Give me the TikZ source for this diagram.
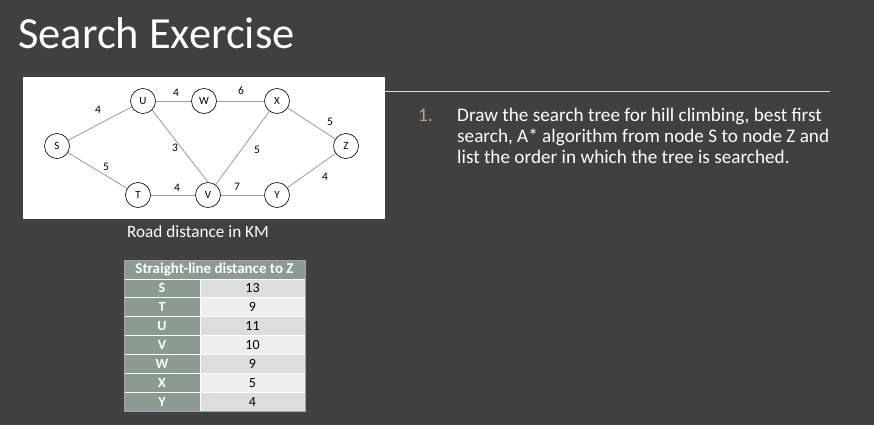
\documentclass[tikz,border=0pt]{standalone}
\usepackage{fontspec}
\setmainfont{Carlito}
\definecolor{bg}{HTML}{404040}
\definecolor{hdr}{HTML}{8C9B8F}
\definecolor{rowa}{HTML}{DCDEDD}
\definecolor{rowb}{HTML}{EEEFEE}
\definecolor{numcol}{HTML}{B3AE6E}
\definecolor{edgecol}{HTML}{9A9A9A}
\begin{document}
\begin{tikzpicture}[x=1pt,y=-1pt,
  gnode/.style={circle,draw=black,line width=0.6pt,fill=white,minimum size=25pt,inner sep=0pt,font=\fontsize{11}{13}\selectfont},
  road/.style={draw=edgecol,line width=0.8pt},
  elabel/.style={font=\fontsize{11.5}{13}\selectfont,inner sep=0pt,text=black},
  hcell/.style={font=\fontsize{15}{17}\selectfont\bfseries,text=white,inner sep=0pt},
  lcell/.style={font=\fontsize{14}{16}\selectfont\bfseries,text=white,inner sep=0pt},
  rcell/.style={font=\fontsize{14}{16}\selectfont,text=black,inner sep=0pt},
  bodytext/.style={font=\fontsize{19.2}{22}\selectfont,text=white,inner sep=0pt,anchor=base west}
]
\fill[bg] (0,0) rectangle (874,425);
\useasboundingbox (0,0) rectangle (874,425);

% title
\node[font=\fontsize{44.5}{52}\selectfont,text=white,inner sep=0pt,anchor=base west] (title) at (18,49) {Search Exercise};

% rule line
\coordinate (ruleA) at (380,91);
\coordinate (ruleB) at (830,91);
\draw[white!85!black,line width=0.9pt] (ruleA) -- (ruleB);

% graph panel
\fill[white] (23,77) rectangle (385,219);
\node[gnode] (S) at (57,146) {S};
\node[gnode] (U) at (143,101) {U};
\node[gnode] (W) at (204,101) {W};
\node[gnode] (X) at (277,101) {X};
\node[gnode] (Z) at (346,146) {Z};
\node[gnode] (T) at (138,195) {T};
\node[gnode] (V) at (208,195) {V};
\node[gnode] (Y) at (277,195) {Y};
\draw[road] (S) -- (U);
\draw[road] (U) -- (W);
\draw[road] (W) -- (X);
\draw[road] (X) -- (Z);
\draw[road] (U.south east) -- (V.north);
\draw[road] (X) -- (V);
\draw[road] (S) -- (T);
\draw[road] (T) -- (V);
\draw[road] (V) -- (Y);
\draw[road] (Y) -- (Z);
\node[elabel] (lSU) at (98,110) {4};
\node[elabel] (lUW) at (176,93) {4};
\node[elabel] (lWX) at (241,91) {6};
\node[elabel] (lXZ) at (330,122) {5};
\node[elabel] (lUV) at (175,148) {3};
\node[elabel] (lXV) at (257,150) {5};
\node[elabel] (lST) at (106,167) {5};
\node[elabel] (lTV) at (177,188) {4};
\node[elabel] (lVY) at (237,187) {7};
\node[elabel] (lYZ) at (325,177) {4};

\node[font=\fontsize{17.2}{20}\selectfont,text=white,inner sep=0pt] (cap) at (198,232) {Road distance in KM};

% table
\fill[hdr] (124,260) rectangle (305,279);
\node[hcell] (th) at (214.5,269.5) {Straight-line distance to Z};
\foreach \i/\n/\d in {0/S/13,1/T/9,2/U/11,3/V/10,4/W/9,5/X/5,6/Y/4}{
  \pgfmathsetmacro{\ya}{279+18.86*\i}
  \pgfmathsetmacro{\yb}{279+18.86*(\i+1)}
  \pgfmathsetmacro{\yc}{279+18.86*(\i+0.5)}
  \fill[hdr] (124,\ya) rectangle (200,\yb);
  \ifodd\i \fill[rowb] (200,\ya) rectangle (305,\yb); \else \fill[rowa] (200,\ya) rectangle (305,\yb); \fi
  \node[lcell] (k\n) at (162,\yc) {\n};
  \node[rcell] (v\n) at (252.5,\yc) {\d};
  \draw[white,line width=0.9pt] (124,\ya) -- (305,\ya);
}
\draw[white,line width=0.9pt] (200,279) -- (200,411);
\draw[gray!70,line width=1pt] (124,260) rectangle (305,411);

% instruction text
\node[font=\fontsize{19.2}{22}\selectfont,text=numcol,inner sep=0pt,anchor=base west] (num) at (418,121.7) {1.};
\node[bodytext] (t1) at (457,121.7) {Draw the search tree for hill climbing, best first};
\node[bodytext] (t2) at (457,142.7) {search, A* algorithm from node S to node Z and};
\node[bodytext] (t3) at (457,163.5) {list the order in which the tree is searched.};
\end{tikzpicture}
\end{document}
